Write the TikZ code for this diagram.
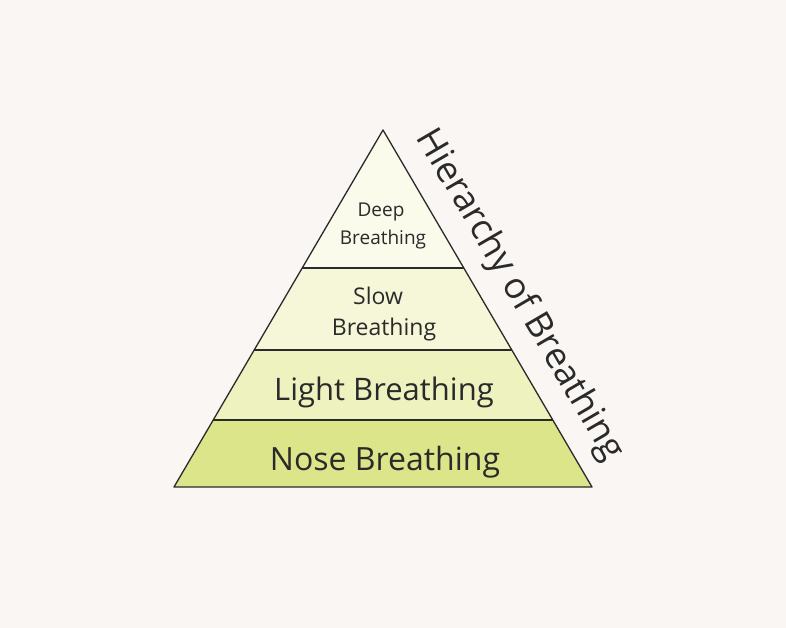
\documentclass[tikz,border=0pt]{standalone}
\usepackage{fontspec}
\setmainfont{Open Sans}
\usetikzlibrary{calc}
\definecolor{bgcol}{HTML}{FAF6F3}
\definecolor{bandA}{HTML}{FBFBEC}
\definecolor{bandB}{HTML}{F6F7D8}
\definecolor{bandC}{HTML}{EEF2BF}
\definecolor{bandD}{HTML}{DCE58A}
\definecolor{inkcol}{HTML}{2A2A2A}
\tikzset{
  edgeline/.style={draw=inkcol, line width=1.3pt, line join=round},
  bandtext/.style={text=inkcol, anchor=base, inner sep=0pt},
}
\begin{document}
\begin{tikzpicture}[x=1pt,y=-1pt]
\fill[bgcol] (0,0) rectangle (786,628);
\useasboundingbox (0,0) rectangle (786,628);
\coordinate (apex) at (383,130);
\coordinate (bl) at (174,487);
\coordinate (br) at (592,487);
\coordinate (l1) at ($(apex)!0.3866!(bl)$);
\coordinate (r1) at ($(apex)!0.3866!(br)$);
\coordinate (l2) at ($(apex)!0.6162!(bl)$);
\coordinate (r2) at ($(apex)!0.6162!(br)$);
\coordinate (l3) at ($(apex)!0.8123!(bl)$);
\coordinate (r3) at ($(apex)!0.8123!(br)$);
\fill[bandA] (apex) -- (r1) -- (l1) -- cycle;
\fill[bandB] (l1) -- (r1) -- (r2) -- (l2) -- cycle;
\fill[bandC] (l2) -- (r2) -- (r3) -- (l3) -- cycle;
\fill[bandD] (l3) -- (r3) -- (br) -- (bl) -- cycle;
\draw[edgeline] (l1) -- (r1);
\draw[edgeline] (l2) -- (r2);
\draw[edgeline] (l3) -- (r3);
\draw[edgeline] (apex) -- (br) -- (bl) -- cycle;
\node[bandtext, font=\fontsize{19}{19}\selectfont] (deep) at (381,217) {Deep};
\node[bandtext, font=\fontsize{19}{19}\selectfont] (deepb) at (383,244) {Breathing};
\node[bandtext, font=\fontsize{23}{23}\selectfont] (slow) at (378,304) {Slow};
\node[bandtext, font=\fontsize{23}{23}\selectfont] (slowb) at (384,335) {Breathing};
\node[bandtext, font=\fontsize{31}{31}\selectfont] (light) at (384,400) {Light Breathing};
\node[bandtext, font=\fontsize{32}{32}\selectfont] (nose) at (385,470) {Nose Breathing};
\node[bandtext, rotate=-59.7, font=\fontsize{36}{36}\selectfont] (title) at (511,300) {Hierarchy of Breathing};
\end{tikzpicture}
\end{document}
